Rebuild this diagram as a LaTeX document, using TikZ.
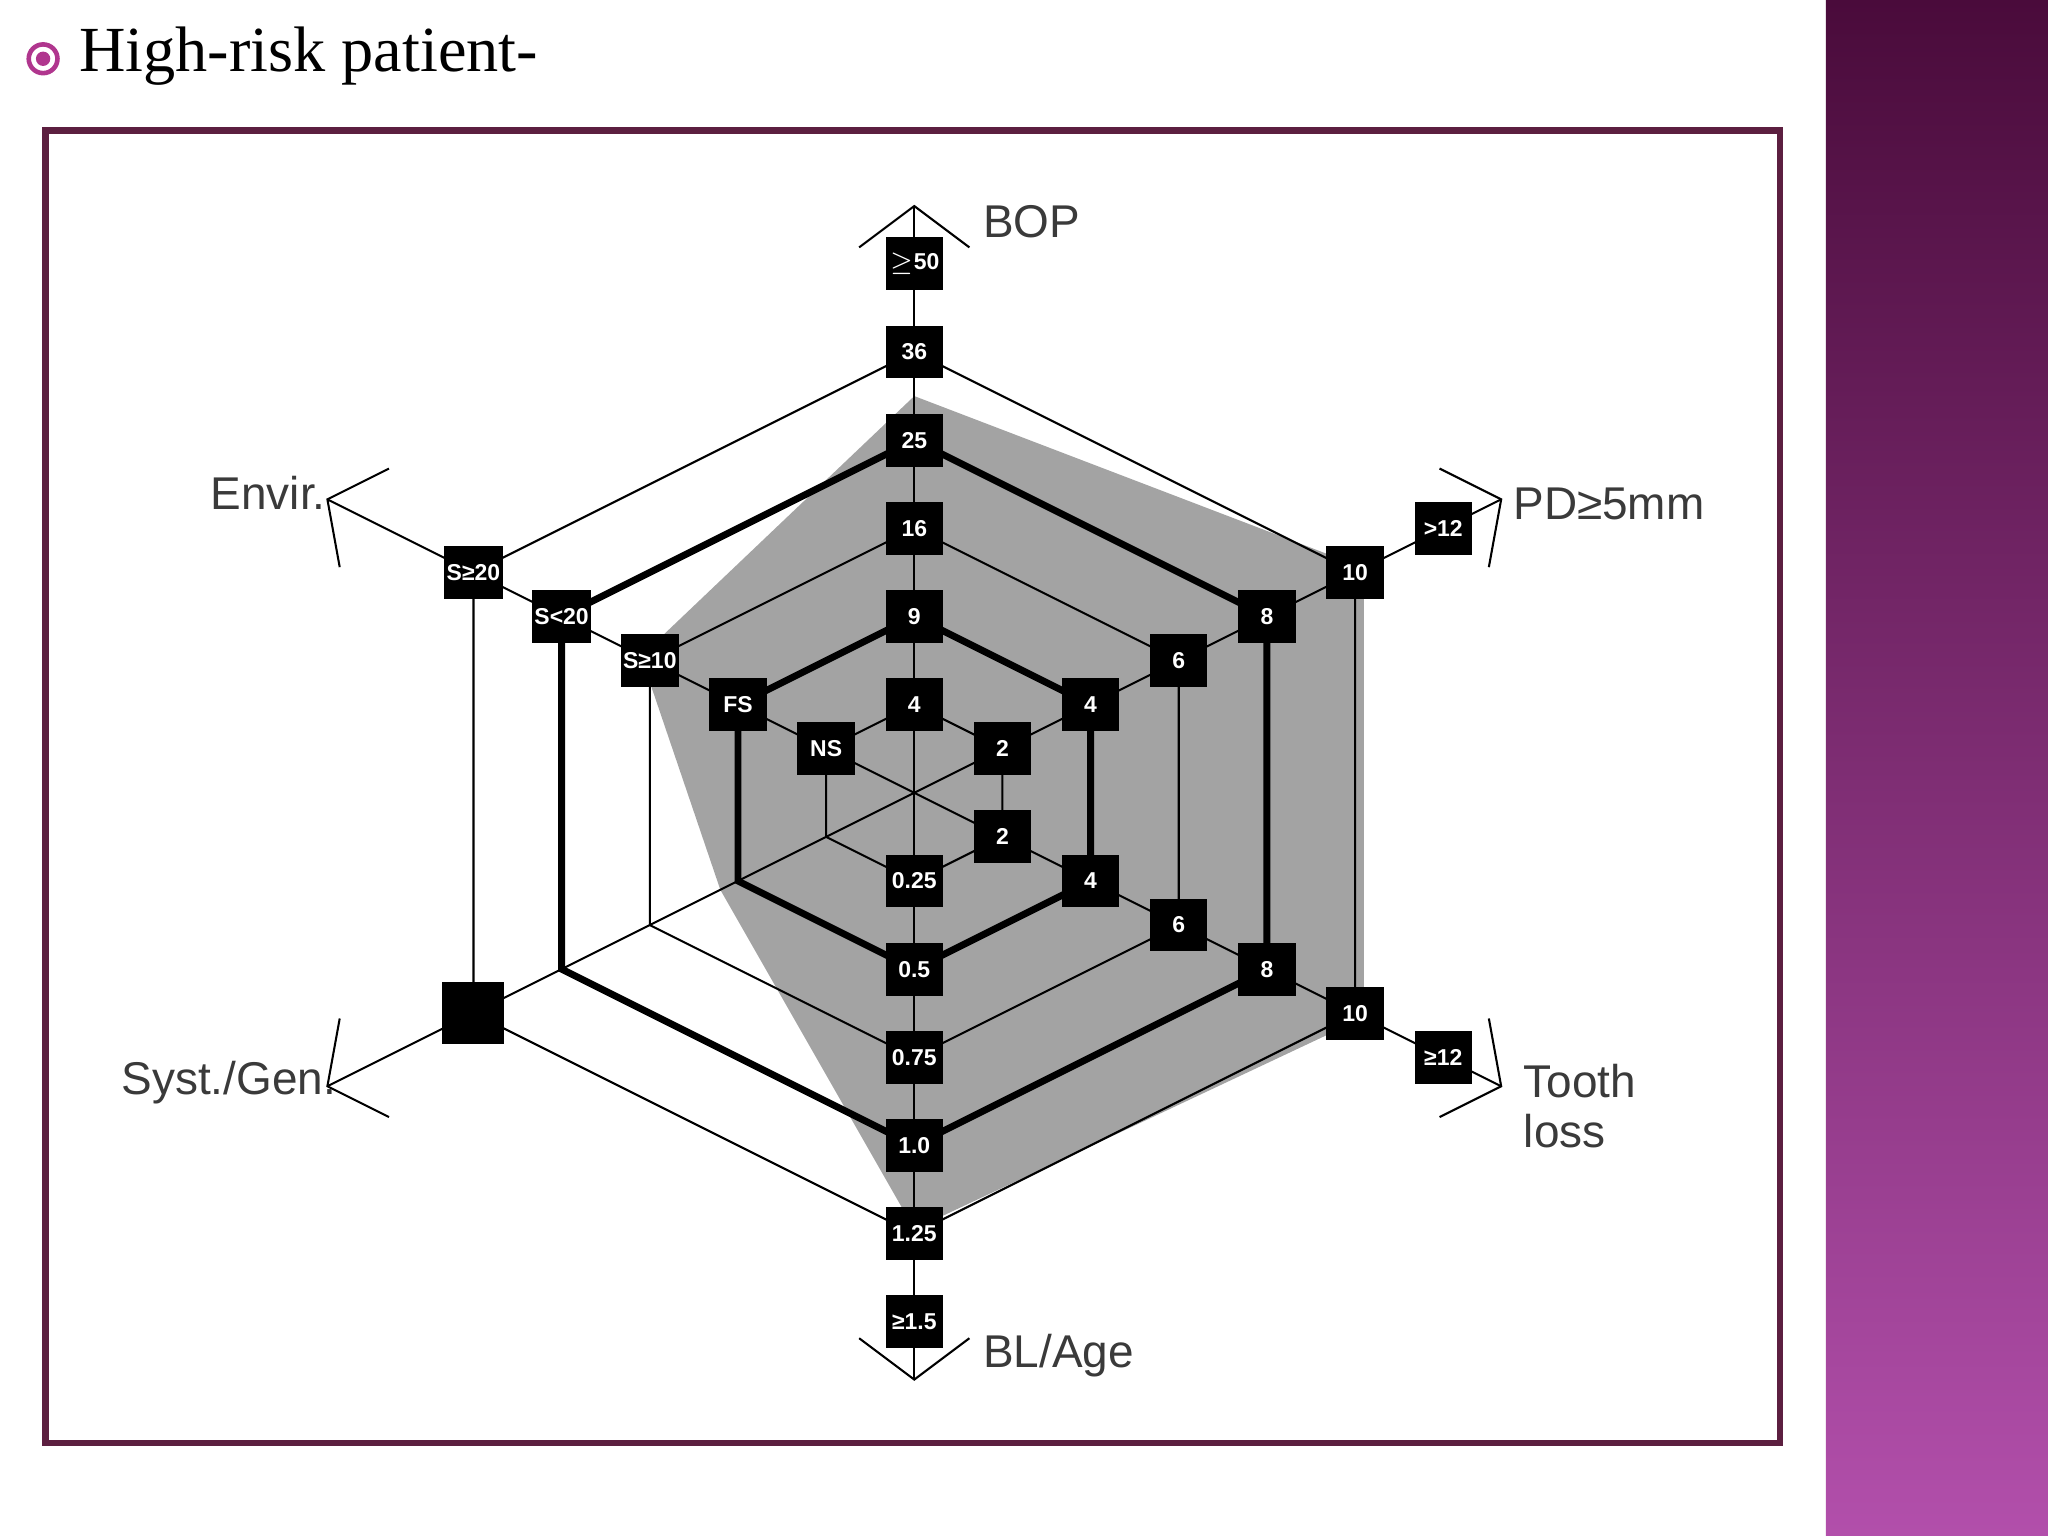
\documentclass[tikz,border=0pt]{standalone}
\usepackage{fontspec}
\setmainfont{Liberation Serif}
\setsansfont{Liberation Sans}
\usetikzlibrary{arrows.meta,calc}
\definecolor{framered}{HTML}{5C1F40}
\definecolor{bandtop}{HTML}{4A0B3B}
\definecolor{bandbot}{HTML}{B24FAB}
\definecolor{bullet}{HTML}{B0368E}
\definecolor{riskgray}{HTML}{A3A3A3}
\definecolor{labelgray}{HTML}{3A3A3A}
\tikzset{
  ring/.style={line width=0.45pt},
  ringbold/.style={line width=1.5pt},
  axis/.style={line width=0.45pt},
  axistip/.style={line width=0.45pt,-{Straight Barb[length=9pt,width=24pt]}},
  valbox/.style={fill=black,text=white,inner sep=0.5pt,minimum width=12.5pt,minimum height=11.5pt,
    font=\sffamily\bfseries\fontsize{5}{5}\selectfont},
  axlabel/.style={text=labelgray,font=\sffamily\fontsize{10}{11}\selectfont,inner sep=0}
}
\begin{document}
\begin{tikzpicture}[x=0.01cm,y=-0.01cm]
    \pgfmathsetmacro{\cx}{700}
    \pgfmathsetmacro{\cy}{607}
    \useasboundingbox (0,0) rectangle (1568,1176);
    % slide band and title
    \shade[top color=bandtop,bottom color=bandbot] (1398,0) rectangle (1568,1176);
    \draw[bullet,line width=1pt] (33,45) circle (11);
    \fill[bullet] (33,45) circle (5.5);
    \node[anchor=west,inner sep=0,font=\fontsize{14}{16}\selectfont] (title) at (60,43) {High-risk patient-};
    \draw[framered,line width=1.4pt] (35,100) rectangle (1363,1105);
    % axes directions: BOP, PD, tooth, BL, syst, envir
    \coordinate (c) at (\cx,\cy);
    \foreach \i/\dx/\dy in {1/0/-67.5,2/67.5/-33.75,3/67.5/33.75,4/0/67.5,5/-67.5/33.75,6/-67.5/-33.75}{
      \foreach \k in {1,...,6}
        \coordinate (p\i-\k) at (\cx+\k*\dx,\cy+\k*\dy);
      \coordinate (tip\i) at (\cx+6.67*\dx,\cy+6.67*\dy);
    }
    % patient profile
    \fill[riskgray] ($(c)!4.5/6!(p1-6)$) -- ($(c)!5.1/6!(p2-6)$) -- ($(c)!5.1/6!(p3-6)$)
      -- ($(c)!4.95/6!(p4-6)$) -- ($(c)!2.2/6!(p5-6)$) -- ($(c)!3.1/6!(p6-6)$) -- cycle;
    % hexagons
    \foreach \k/\st in {1/ring,2/ringbold,3/ring,4/ringbold,5/ring}
      \draw[\st] (p1-\k) -- (p2-\k) -- (p3-\k) -- (p4-\k) -- (p5-\k) -- (p6-\k) -- cycle;
    \foreach \i in {1,...,6}
      \draw[axistip] (c) -- (tip\i);
    % value boxes
    \foreach \k/\v in {1/4,2/9,3/16,4/25,5/36,6/$\geq$50}
      \node[valbox] (bop\k) at (p1-\k) {\v};
    \foreach \k/\v in {1/2,2/4,3/6,4/8,5/10,6/>12}
      \node[valbox] (pd\k) at (p2-\k) {\v};
    \foreach \k/\v in {1/2,2/4,3/6,4/8,5/10,6/≥12}
      \node[valbox] (tl\k) at (p3-\k) {\v};
    \foreach \k/\v in {1/0.25,2/0.5,3/0.75,4/1.0,5/1.25,6/≥1.5}
      \node[valbox] (bl\k) at (p4-\k) {\v};
    \foreach \k/\v in {1/NS,2/FS,3/S≥10,4/S<20,5/S≥20}
      \node[valbox] (env\k) at (p6-\k) {\v};
    \node[valbox,minimum size=13.5pt] (sys5) at (p5-5) {};
    % axis labels
    \node[axlabel,anchor=west] (lbop) at (752,170) {BOP};
    \node[axlabel,anchor=west] (lpd) at (1158,386) {PD≥5mm};
    \node[axlabel,anchor=west,align=left] (ltl) at (1166,847) {Tooth\\loss};
    \node[axlabel,anchor=west] (lbl) at (752,1038) {BL/Age};
    \node[axlabel,anchor=east] (lsys) at (258,829) {Syst./Gen.};
    \node[axlabel,anchor=east] (lenv) at (250,377) {Envir.};
\end{tikzpicture}
\end{document}
